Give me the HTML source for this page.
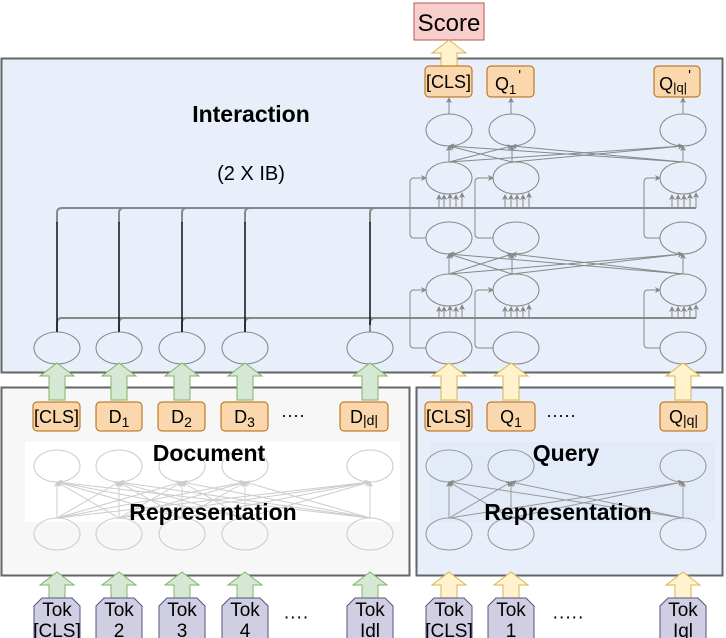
<!DOCTYPE html>
<html><head><meta charset="utf-8"><style>
html,body{margin:0;padding:0;background:#fff;}
svg{display:block;font-family:"Liberation Sans",Arial,sans-serif;}
</style></head><body>
<svg width="726" height="638" viewBox="0 0 726 638" xmlns="http://www.w3.org/2000/svg">
<defs>
<marker id="a" markerWidth="6" markerHeight="6" refX="5" refY="3" orient="auto" markerUnits="userSpaceOnUse"><path d="M0,0 L6,3 L0,6 L1.5,3 Z" fill="#888"/></marker>
<marker id="b" markerWidth="6" markerHeight="6" refX="5" refY="3" orient="auto" markerUnits="userSpaceOnUse"><path d="M0,0 L6,3 L0,6 L1.5,3 Z" fill="#ccc"/></marker>
</defs>
<!-- Score -->
<rect x="414" y="3" width="70" height="37" fill="#f8cecc" stroke="#b85450"/>
<text x="449" y="31" font-size="24" text-anchor="middle">Score</text>
<!-- Interaction box -->
<rect x="1.5" y="58.5" width="721" height="314" fill="#e8effa" stroke="#666" stroke-width="2"/>
<polygon points="449,40 466,53 457,53 457,66 441,66 441,53 432,53" fill="#fff2cc" stroke="#d6b656"/>
<text x="251" y="122" font-size="23" font-weight="bold" text-anchor="middle">Interaction</text>
<text x="251" y="180" font-size="20" text-anchor="middle">(2 X IB)</text>
<!-- output boxes -->
<g fill="#fad7ac" stroke="#b46504" stroke-width="1">
<rect x="425" y="66" width="47" height="31" rx="4"/>
<rect x="487" y="66" width="47" height="31" rx="4"/>
<rect x="654" y="66" width="46" height="31" rx="4"/>
</g>
<g font-size="18" text-anchor="middle">
<text x="448.5" y="88">[CLS]</text>
<text x="508" y="90">Q<tspan font-size="13" dy="4">1</tspan><tspan font-size="15" dy="-14" dx="2">'</tspan></text>
<text x="675" y="90">Q<tspan font-size="13" dy="2">|q|</tspan><tspan font-size="15" dy="-12" dx="1">'</tspan></text>
</g>
<!-- query column ellipses -->
<g fill="none" stroke="#888" stroke-width="1">
<ellipse cx="449" cy="130" rx="23" ry="16"/><ellipse cx="512" cy="130" rx="23" ry="16"/><ellipse cx="683" cy="130" rx="23" ry="16"/>
<ellipse cx="449" cy="178" rx="23" ry="16"/><ellipse cx="516" cy="178" rx="23" ry="16"/><ellipse cx="683" cy="178" rx="23" ry="16"/>
<ellipse cx="449" cy="238" rx="23" ry="16"/><ellipse cx="516" cy="238" rx="23" ry="16"/><ellipse cx="683" cy="238" rx="23" ry="16"/>
<ellipse cx="449" cy="290" rx="23" ry="16"/><ellipse cx="516" cy="290" rx="23" ry="16"/><ellipse cx="683" cy="290" rx="23" ry="16"/>
<ellipse cx="449" cy="348" rx="23" ry="16"/><ellipse cx="516" cy="348" rx="23" ry="16"/><ellipse cx="683" cy="348" rx="23" ry="16"/>
<ellipse cx="57" cy="348" rx="23" ry="16"/><ellipse cx="119" cy="348" rx="23" ry="16"/><ellipse cx="182" cy="348" rx="23" ry="16"/><ellipse cx="245" cy="348" rx="23" ry="16"/><ellipse cx="370" cy="348" rx="23" ry="16"/>
</g>
<g stroke="#888" stroke-width="1" fill="none" marker-end="url(#a)">
<line x1="449" y1="114" x2="449" y2="98"/><line x1="511" y1="114" x2="511" y2="98"/><line x1="683" y1="114" x2="683" y2="98"/>
<line x1="449" y1="162" x2="449" y2="146"/><line x1="449" y1="162" x2="512" y2="146"/><line x1="449" y1="162" x2="683" y2="146"/>
<line x1="512" y1="162" x2="449" y2="146"/><line x1="512" y1="162" x2="512" y2="146"/><line x1="512" y1="162" x2="683" y2="146"/>
<line x1="683" y1="162" x2="449" y2="146"/><line x1="683" y1="162" x2="512" y2="146"/><line x1="683" y1="162" x2="683" y2="146"/>
<line x1="449" y1="274" x2="449" y2="254"/><line x1="449" y1="274" x2="512" y2="254"/><line x1="449" y1="274" x2="683" y2="254"/>
<line x1="512" y1="274" x2="449" y2="254"/><line x1="512" y1="274" x2="512" y2="254"/><line x1="512" y1="274" x2="683" y2="254"/>
<line x1="683" y1="274" x2="449" y2="254"/><line x1="683" y1="274" x2="512" y2="254"/><line x1="683" y1="274" x2="683" y2="254"/>
<path d="M426,238 H414 Q410,238 410,234 V182 Q410,178 414,178 H426"/>
<path d="M493,238 H479 Q475,238 475,234 V182 Q475,178 479,178 H493"/>
<path d="M660,238 H648 Q644,238 644,234 V182 Q644,178 648,178 H660"/>
<path d="M426,348 H414 Q410,348 410,344 V294 Q410,290 414,290 H426"/>
<path d="M493,348 H479 Q475,348 475,344 V294 Q475,290 479,290 H493"/>
<path d="M660,348 H648 Q644,348 644,344 V294 Q644,290 648,290 H660"/>
</g>
<g stroke="#888" stroke-width="1" marker-end="url(#a)">
<line x1="439" y1="208" x2="439" y2="195"/><line x1="444" y1="208" x2="444" y2="195"/><line x1="450" y1="208" x2="450" y2="194"/><line x1="456" y1="208" x2="456" y2="195"/><line x1="462" y1="208" x2="462" y2="193"/>
<line x1="505" y1="208" x2="505" y2="195"/><line x1="511" y1="208" x2="511" y2="195"/><line x1="517" y1="208" x2="517" y2="195"/><line x1="523" y1="208" x2="523" y2="195"/><line x1="529" y1="208" x2="529" y2="193"/>
<line x1="672" y1="208" x2="672" y2="195"/><line x1="678" y1="208" x2="678" y2="195"/><line x1="684" y1="208" x2="684" y2="195"/><line x1="690" y1="208" x2="690" y2="194"/><line x1="696" y1="208" x2="696" y2="193"/>
<line x1="439" y1="318" x2="439" y2="307"/><line x1="444" y1="318" x2="444" y2="307"/><line x1="450" y1="318" x2="450" y2="306"/><line x1="456" y1="318" x2="456" y2="307"/><line x1="462" y1="318" x2="462" y2="305"/>
<line x1="505" y1="318" x2="505" y2="307"/><line x1="511" y1="318" x2="511" y2="307"/><line x1="517" y1="318" x2="517" y2="307"/><line x1="523" y1="318" x2="523" y2="307"/><line x1="529" y1="318" x2="529" y2="305"/>
<line x1="672" y1="318" x2="672" y2="307"/><line x1="678" y1="318" x2="678" y2="307"/><line x1="684" y1="318" x2="684" y2="307"/><line x1="690" y1="318" x2="690" y2="306"/><line x1="696" y1="318" x2="696" y2="305"/>
</g>
<g stroke="#888" stroke-width="2" fill="none">
<path d="M57,223 V213 Q57,208 62,208 H696"/>
<path d="M119,223 V213 Q119,208 124,208"/><path d="M182,223 V213 Q182,208 187,208"/><path d="M245,223 V213 Q245,208 250,208"/><path d="M370,223 V213 Q370,208 375,208"/>
<path d="M57,332 V323 Q57,318 62,318 H696"/>
<path d="M119,332 V323 Q119,318 124,318"/><path d="M182,332 V323 Q182,318 187,318"/><path d="M245,332 V323 Q245,318 250,318"/><path d="M370,332 V323 Q370,318 375,318"/>
</g>
<g stroke="#111" stroke-width="1.5">
<line x1="57" y1="222" x2="57" y2="332"/><line x1="119" y1="222" x2="119" y2="332"/><line x1="182" y1="222" x2="182" y2="332"/><line x1="245" y1="222" x2="245" y2="332"/><line x1="370" y1="222" x2="370" y2="325"/>
</g>
<!-- lower boxes -->
<rect x="1.5" y="387.5" width="408" height="188" fill="#f7f7f7" stroke="#666" stroke-width="2"/>
<rect x="416.5" y="387.5" width="306" height="188" fill="#e8effa" stroke="#666" stroke-width="2"/>
<rect x="25" y="442" width="375" height="80" fill="#fff"/>
<rect x="430" y="442" width="285" height="80" fill="#dfe8f8" opacity="0.6"/>
<g fill="none" stroke="#ccc" stroke-width="1">
<ellipse cx="57" cy="466" rx="23" ry="16"/><ellipse cx="119" cy="466" rx="23" ry="16"/><ellipse cx="182" cy="466" rx="23" ry="16"/><ellipse cx="245" cy="466" rx="23" ry="16"/><ellipse cx="370" cy="466" rx="23" ry="16"/>
<ellipse cx="57" cy="534" rx="23" ry="16"/><ellipse cx="119" cy="534" rx="23" ry="16"/><ellipse cx="182" cy="534" rx="23" ry="16"/><ellipse cx="245" cy="534" rx="23" ry="16"/><ellipse cx="370" cy="534" rx="23" ry="16"/>
</g>
<g stroke="#ccc" stroke-width="1" marker-end="url(#b)">
<line x1="57" y1="518" x2="57" y2="482"/><line x1="57" y1="518" x2="119" y2="482"/><line x1="57" y1="518" x2="182" y2="482"/><line x1="57" y1="518" x2="245" y2="482"/><line x1="57" y1="518" x2="370" y2="482"/>
<line x1="119" y1="518" x2="57" y2="482"/><line x1="119" y1="518" x2="119" y2="482"/><line x1="119" y1="518" x2="182" y2="482"/><line x1="119" y1="518" x2="245" y2="482"/><line x1="119" y1="518" x2="370" y2="482"/>
<line x1="182" y1="518" x2="57" y2="482"/><line x1="182" y1="518" x2="119" y2="482"/><line x1="182" y1="518" x2="182" y2="482"/><line x1="182" y1="518" x2="245" y2="482"/><line x1="182" y1="518" x2="370" y2="482"/>
<line x1="245" y1="518" x2="57" y2="482"/><line x1="245" y1="518" x2="119" y2="482"/><line x1="245" y1="518" x2="182" y2="482"/><line x1="245" y1="518" x2="245" y2="482"/><line x1="245" y1="518" x2="370" y2="482"/>
<line x1="370" y1="518" x2="57" y2="482"/><line x1="370" y1="518" x2="119" y2="482"/><line x1="370" y1="518" x2="182" y2="482"/><line x1="370" y1="518" x2="245" y2="482"/><line x1="370" y1="518" x2="370" y2="482"/>
</g>
<g fill="none" stroke="#999" stroke-width="1">
<ellipse cx="449" cy="466" rx="23" ry="16"/><ellipse cx="511" cy="466" rx="23" ry="16"/><ellipse cx="683" cy="466" rx="23" ry="16"/>
<ellipse cx="449" cy="534" rx="23" ry="16"/><ellipse cx="511" cy="534" rx="23" ry="16"/><ellipse cx="683" cy="534" rx="23" ry="16"/>
</g>
<g stroke="#999" stroke-width="1" marker-end="url(#a)">
<line x1="449" y1="518" x2="449" y2="482"/><line x1="449" y1="518" x2="511" y2="482"/><line x1="449" y1="518" x2="683" y2="482"/>
<line x1="511" y1="518" x2="449" y2="482"/><line x1="511" y1="518" x2="511" y2="482"/><line x1="511" y1="518" x2="683" y2="482"/>
<line x1="683" y1="518" x2="449" y2="482"/><line x1="683" y1="518" x2="511" y2="482"/><line x1="683" y1="518" x2="683" y2="482"/>
</g>
<g font-size="23" font-weight="bold" text-anchor="middle" fill="#000">
<text x="209" y="461">Document</text>
<text x="213" y="520">Representation</text>
<text x="566" y="461">Query</text>
<text x="568" y="520">Representation</text>
</g>
<g fill="#fad7ac" stroke="#b46504" stroke-width="1">
<rect x="33" y="402" width="47" height="29" rx="4"/><rect x="96" y="402" width="46" height="29" rx="4"/><rect x="158" y="402" width="47" height="29" rx="4"/><rect x="221" y="402" width="47" height="29" rx="4"/><rect x="340" y="402" width="48" height="29" rx="4"/>
<rect x="425" y="402" width="47" height="29" rx="4"/><rect x="487" y="402" width="48" height="29" rx="4"/><rect x="660" y="402" width="47" height="29" rx="4"/>
</g>
<g font-size="18" text-anchor="middle">
<text x="56.5" y="423">[CLS]</text>
<text x="119" y="423">D<tspan font-size="14" dy="4">1</tspan></text>
<text x="181.5" y="423">D<tspan font-size="14" dy="4">2</tspan></text>
<text x="244.5" y="423">D<tspan font-size="14" dy="4">3</tspan></text>
<text x="293" y="421">····</text>
<text x="364" y="423">D<tspan font-size="14" dy="2">|d|</tspan></text>
<text x="448.5" y="423">[CLS]</text>
<text x="511" y="423">Q<tspan font-size="14" dy="4">1</tspan></text>
<text x="561" y="421">·····</text>
<text x="683.5" y="423">Q<tspan font-size="14" dy="2">|q|</tspan></text>
</g>
<g fill="#d5e8d4" stroke="#82b366" stroke-width="1">
<polygon points="57,363 74,376 65,376 65,400 49,400 49,376 40,376"/>
<polygon points="119,363 136,376 127,376 127,400 111,400 111,376 102,376"/>
<polygon points="182,363 199,376 190,376 190,400 174,400 174,376 165,376"/>
<polygon points="245,363 262,376 253,376 253,400 237,400 237,376 228,376"/>
<polygon points="370,363 387,376 378,376 378,400 362,400 362,376 353,376"/>
<polygon points="57,572 74,585 65,585 65,598 49,598 49,585 40,585"/>
<polygon points="119,572 136,585 127,585 127,598 111,598 111,585 102,585"/>
<polygon points="182,572 199,585 190,585 190,598 174,598 174,585 165,585"/>
<polygon points="245,572 262,585 253,585 253,598 237,598 237,585 228,585"/>
<polygon points="370,572 387,585 378,585 378,598 362,598 362,585 353,585"/>
</g>
<g fill="#fff2cc" stroke="#d6b656" stroke-width="1">
<polygon points="449,363 466,376 457,376 457,400 441,400 441,376 432,376"/>
<polygon points="511,363 528,376 519,376 519,400 503,400 503,376 494,376"/>
<polygon points="683,363 700,376 691,376 691,400 675,400 675,376 666,376"/>
<polygon points="449,572 466,585 457,585 457,598 441,598 441,585 432,585"/>
<polygon points="511,572 528,585 519,585 519,598 503,598 503,585 494,585"/>
<polygon points="683,572 700,585 691,585 691,598 675,598 675,585 666,585"/>
</g>
<g fill="#d0cee2" stroke="#56517e" stroke-width="1">
<path d="M34,638 V606 L42,598 H72 L80,606 V638"/>
<path d="M96,638 V606 L104,598 H134 L142,606 V638"/>
<path d="M159,638 V606 L167,598 H197 L205,606 V638"/>
<path d="M222,638 V606 L230,598 H260 L268,606 V638"/>
<path d="M347,638 V606 L355,598 H385 L393,606 V638"/>
<path d="M426,638 V606 L434,598 H464 L472,606 V638"/>
<path d="M488,638 V606 L496,598 H526 L534,606 V638"/>
<path d="M660,638 V606 L668,598 H698 L706,606 V638"/>
</g>
<g font-size="19" text-anchor="middle">
<text x="57" y="616">Tok</text><text x="57" y="637">[CLS]</text>
<text x="119" y="616">Tok</text><text x="119" y="637">2</text>
<text x="182" y="616">Tok</text><text x="182" y="637">3</text>
<text x="245" y="616">Tok</text><text x="245" y="637">4</text>
<text x="296" y="623">····</text>
<text x="370" y="616">Tok</text><text x="370" y="637">Idl</text>
<text x="449" y="616">Tok</text><text x="449" y="637">[CLS]</text>
<text x="511" y="616">Tok</text><text x="511" y="637">1</text>
<text x="568" y="623">·····</text>
<text x="683" y="616">Tok</text><text x="683" y="637">Iql</text>
</g>
</svg>
</body></html>
